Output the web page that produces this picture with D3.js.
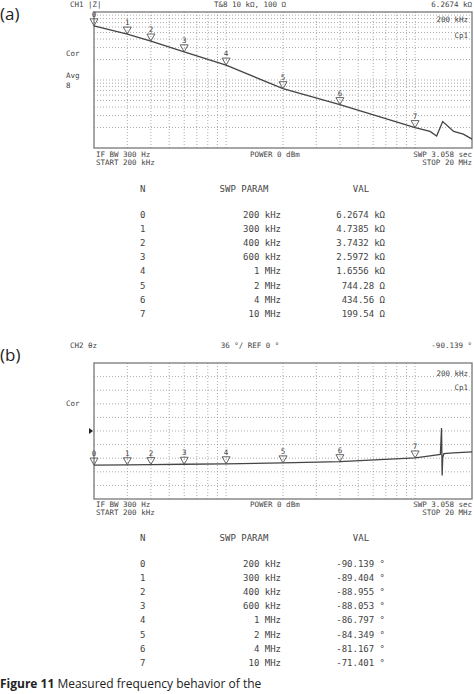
<!DOCTYPE html>
<html>
<head>
<meta charset="utf-8">
<script src="https://cdn.jsdelivr.net/npm/d3@7"></script>
<style>
  body { margin: 0; background: #fff; }
  text { font-family: "DejaVu Sans Mono", monospace; fill: #444; }
</style>
</head>
<body>
<svg id="chart" width="474" height="694"></svg>
<script>
// marker frequencies (Hz) and readouts
var markerFreq = [200e3, 300e3, 400e3, 600e3, 1e6, 2e6, 4e6, 10e6];
var markerParam = ["200 kHz", "300 kHz", "400 kHz", "600 kHz", "1 MHz", "2 MHz", "4 MHz", "10 MHz"];
var magVals = [6267.4, 4738.5, 3743.2, 2597.2, 1655.6, 744.28, 434.56, 199.54];
var magLabels = ["6.2674 kΩ", "4.7385 kΩ", "3.7432 kΩ", "2.5972 kΩ", "1.6556 kΩ", "744.28 Ω", "434.56 Ω", "199.54 Ω"];
var phaseVals = [-90.139, -89.404, -88.955, -88.053, -86.797, -84.349, -81.167, -71.401];
var phaseLabels = ["-90.139 °", "-89.404 °", "-88.955 °", "-88.053 °", "-86.797 °", "-84.349 °", "-81.167 °", "-71.401 °"];

// extra trace points past the last marker
var tailFreq = [12e6, 13e6, 14e6, 16e6, 18e6, 20e6];
var magTail = [175, 150, 245, 175, 160, 135];
var phaseTailFreq = [12e6, 13.6e6, 13.8e6, 13.9e6, 14.0e6, 14.2e6, 16e6, 20e6];
var phaseTail = [-66, -62, 8, -118, -70, -60, -58, -55];

var svg = d3.select("#chart");
var left = 94, right = 472;
var x = d3.scaleLog().domain([200e3, 20e6]).range([left, right]);

function panel(top, bottom, y, hLines, opts) {
    var g = svg.append("g");
    // vertical grid
    var vt = [];
    [1e5, 1e6, 1e7].forEach(function (d) {
        for (var k = 1; k < 10; k++) { var f = d * k; if (f > 200e3 && f < 20e6) vt.push(f); }
    });
    g.selectAll(".vg").data(vt).enter().append("line")
        .attr("x1", d => x(d)).attr("x2", d => x(d))
        .attr("y1", top).attr("y2", bottom)
        .attr("stroke", "#888").attr("stroke-width", 0.7).attr("stroke-dasharray", "1,2");
    g.selectAll(".hg").data(hLines).enter().append("line")
        .attr("x1", left).attr("x2", right)
        .attr("y1", d => y(d)).attr("y2", d => y(d))
        .attr("stroke", "#888").attr("stroke-width", 0.7).attr("stroke-dasharray", "1,2");
    g.append("rect").attr("x", left).attr("y", top).attr("width", right - left).attr("height", bottom - top)
        .attr("fill", "none").attr("stroke", "#777").attr("stroke-width", 1.3);

    var pts = opts.freq.map((f, i) => [f, opts.vals[i]]);
    g.append("path").datum(pts)
        .attr("d", d3.line().x(d => x(d[0])).y(d => y(d[1])))
        .attr("fill", "none").attr("stroke", "#444").attr("stroke-width", 1.3);

    markerFreq.forEach(function (f, i) {
        var cx = x(f), cy = y(opts.marker[i]);
        g.append("path").attr("d", `M${cx - 4},${cy - 7}L${cx + 4},${cy - 7}L${cx},${cy}Z`)
            .attr("fill", "none").attr("stroke", "#555").attr("stroke-width", 0.9);
        g.append("text").attr("x", cx).attr("y", cy - 9).attr("text-anchor", "middle")
            .attr("font-size", 7.5).text(i);
    });

    opts.texts.forEach(function (d) {
        g.append("text").attr("x", d[0]).attr("y", d[1]).attr("font-size", 7.5)
            .attr("text-anchor", d[3] || "start").text(d[2]);
    });
}

// (a) |Z|
var yA = d3.scaleLog().domain([100, 10000]).range([148, 12]);
var hA = [];
[100, 1000].forEach(function (d) { for (var k = 2; k < 10; k++) hA.push(d * k); });
hA.push(1000);
panel(12, 148, yA, hA, {
    freq: markerFreq.concat(tailFreq),
    vals: magVals.concat(magTail),
    marker: magVals,
    texts: [[70, 7, "CH1 |Z|"], [250, 7, "T&8  10 kΩ, 100 Ω", "middle"], [472, 7, "6.2674 kΩ", "end"],
        [468, 22, "200 kHz", "end"], [468, 38, "Cp1", "end"],
        [66, 56, "Cor"], [66, 78, "Avg"], [66, 88, "8"],
        [96, 157, "IF BW 300 Hz"], [96, 165, "START  200 kHz"], [250, 157, "POWER  0 dBm"],
        [472, 157, "SWP  3.058 sec", "end"], [472, 165, "STOP  20 MHz", "end"]]
});

// (b) phase
var yB = d3.scaleLinear().domain([-180, 180]).range([499, 363]);
panel(363, 499, yB, d3.range(-144, 180, 36), {
    freq: markerFreq.concat(phaseTailFreq),
    vals: phaseVals.concat(phaseTail),
    marker: phaseVals,
    texts: [[70, 348, "CH2 θz"], [250, 348, "36 °/ REF 0 °", "middle"], [472, 348, "-90.139 °", "end"],
        [468, 376, "200 kHz", "end"], [468, 390, "Cp1", "end"],
        [66, 406, "Cor"],
        [96, 507, "IF BW 300 Hz"], [96, 515, "START  200 kHz"], [250, 507, "POWER  0 dBm"],
        [472, 507, "SWP  3.058 sec", "end"], [472, 515, "STOP  20 MHz", "end"]]
});
svg.append("path").attr("d", `M89,${yB(0) - 3}L93,${yB(0)}L89,${yB(0) + 3}Z`).attr("fill", "#222");

svg.append("text").attr("x", 0).attr("y", 20).attr("font-size", 17).style("font-family", "Open Sans").style("fill", "#222").text("(a)");
svg.append("text").attr("x", 0).attr("y", 361).attr("font-size", 17).style("font-family", "Open Sans").style("fill", "#222").text("(b)");

function table(top, vals) {
    var g = svg.append("g").attr("font-size", 9);
    g.append("text").attr("x", 140).attr("y", top).text("N");
    g.append("text").attr("x", 244).attr("y", top).attr("text-anchor", "middle").text("SWP PARAM");
    g.append("text").attr("x", 361).attr("y", top).attr("text-anchor", "middle").text("VAL");
    markerParam.forEach(function (p, i) {
        var yy = top + 26 + i * 14.1;
        g.append("text").attr("x", 140).attr("y", yy).text(i);
        g.append("text").attr("x", 281).attr("y", yy).attr("text-anchor", "end").text(p);
        g.append("text").attr("x", 385).attr("y", yy).attr("text-anchor", "end").text(vals[i]);
    });
}
table(192, magLabels);
table(541, phaseLabels);

svg.append("text").attr("x", 0).attr("y", 688).attr("font-size", 12).style("font-family", "Open Sans")
    .style("fill", "#222").style("font-weight", "bold").text("Figure 11")
    .append("tspan").style("font-weight", "normal").text(" Measured frequency behavior of the");
</script>
</body>
</html>
